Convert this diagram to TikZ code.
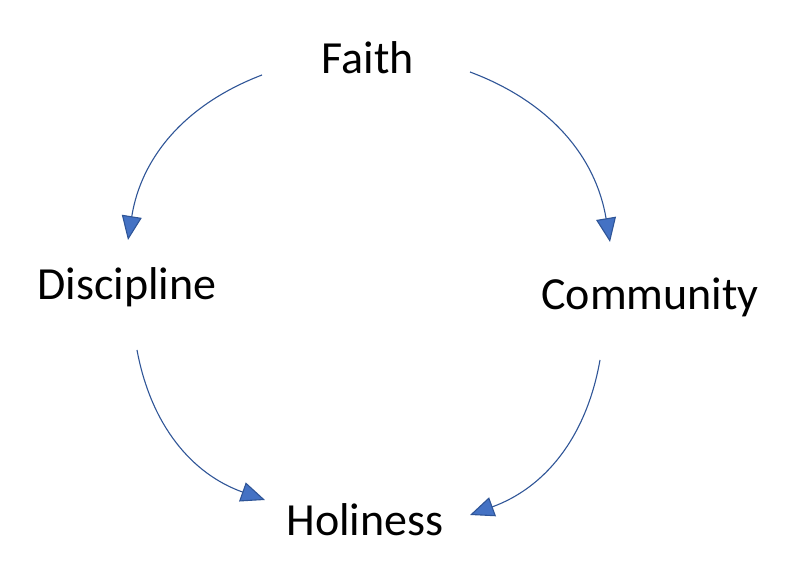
\documentclass[tikz,border=0pt]{standalone}
\usepackage{fontspec}
\setmainfont{Carlito}
\usetikzlibrary{arrows.meta}
\definecolor{ln}{HTML}{2F5597}
\definecolor{hd}{HTML}{4472C4}
\begin{document}
\begin{tikzpicture}[x=1pt,y=1pt,
  lbl/.style={font=\fontsize{46}{52}\selectfont,inner sep=0pt},
  arr/.style={draw=ln,line width=1.1pt,-{Triangle[length=24pt,width=20pt,fill=hd]}}]
\useasboundingbox (0,0) rectangle (798,577);
\node[lbl] (f) at (368,519) {Faith};
\node[lbl] (d) at (127,290) {Discipline};
\node[lbl] (c) at (650,280) {Community};
\node[lbl] (h) at (365,57) {Holiness};
\coordinate (f1) at (262,502);
\coordinate (f2) at (470,505);
\coordinate (d1) at (137,227);
\coordinate (c1) at (600,217);
\coordinate (dt) at (128,337);
\coordinate (ct) at (610,335);
\coordinate (ht1) at (265,77);
\coordinate (ht2) at (470,62);
\draw[arr] (f1) to[bend right=30] (dt);
\draw[arr] (f2) to[bend left=30] (ct);
\draw[arr] (d1) to[bend right=30] (ht1);
\draw[arr] (c1) to[bend left=30] (ht2);
\end{tikzpicture}
\end{document}
